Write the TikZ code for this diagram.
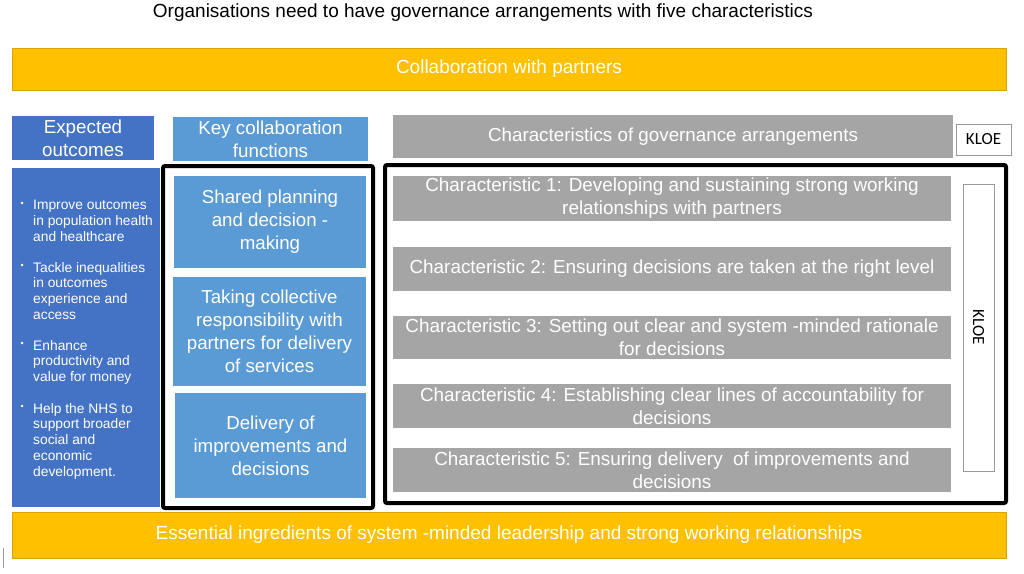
\documentclass[tikz,border=0pt]{standalone}
\usepackage{fontspec}
\setmainfont{Liberation Sans}
\newfontfamily\kloefont{Carlito}
\definecolor{darkblue}{HTML}{4472C4}
\definecolor{lightblue}{HTML}{5B9BD5}
\definecolor{greybox}{HTML}{A5A5A5}
\definecolor{amber}{HTML}{FFC000}
\begin{document}
\begin{tikzpicture}[x=1pt,y=-1pt,
  band/.style={fill=amber,draw=amber!85!black,line width=0.6pt,minimum width=994pt,text=white,font=\fontsize{19}{22}\selectfont},
  head/.style={text=white,align=center,inner sep=1pt,font=\fontsize{18.8}{23}\selectfont},
  func/.style={fill=lightblue,text=white,align=center,inner sep=1pt,font=\fontsize{18.7}{23}\selectfont},
  charbox/.style={fill=greybox,text=white,align=center,inner sep=1pt,minimum width=558pt,font=\fontsize{18.9}{23}\selectfont},
  frame/.style={draw=black,line width=4pt,rounded corners=2pt},
  kloebox/.style={draw=black!40,fill=white,font=\kloefont\fontsize{17}{19}\selectfont},
  bullets/.style={text=white,align=left,inner sep=0pt,font=\fontsize{13.8}{15.7}\selectfont}]
  \useasboundingbox[fill=white] (0,0) rectangle (1024,573);
  \node[font=\fontsize{19}{22}\selectfont] (title) at (483,13) {Organisations need to have governance arrangements with five characteristics};
  \node[band,minimum height=42pt] (collab) at (509,69) {Collaboration with partners};
  % headings
  \node[head,fill=darkblue,minimum width=142pt,minimum height=44pt] (exphead) at (83,138) {Expected\\outcomes};
  \node[head,fill=lightblue,minimum width=195pt,minimum height=44pt] (keyhead) at (270.5,139) {Key collaboration\\functions};
  \node[head,fill=greybox,minimum width=560pt,minimum height=43pt] (charhead) at (673,136.5) {Characteristics of governance arrangements};
  \node[kloebox,minimum width=55pt,minimum height=31pt] (kloe) at (983.5,139.5) {KLOE};
  % expected outcomes
  \node[fill=darkblue,minimum width=148pt,minimum height=339pt] (outcomes) at (86,337.5) {};
  \node[bullets,anchor=north west] (out1) at (33,200) {Improve outcomes\\in population health\\and healthcare};
  \node[bullets,anchor=north west] (out2) at (33,262) {Tackle inequalities\\in outcomes\\experience and\\access};
  \node[bullets,anchor=north west] (out3) at (33,340) {Enhance\\productivity and\\value for money};
  \node[bullets,anchor=north west] (out4) at (33,403) {Help the NHS to\\support broader\\social and\\economic\\development.};
  \foreach \b in {out1,out2,out3,out4}
    \node[bullets,anchor=north east,font=\fontsize{9}{15.5}\selectfont] at ([xshift=-9pt,yshift=-2pt]\b.north west) {\textbullet};
  % key collaboration functions
  \node[frame,minimum width=210pt,minimum height=342pt] (funcframe) at (268,337) {};
  \node[func,minimum width=192pt,minimum height=92pt] (func1) at (270,222) {Shared planning\\and decision -\\making};
  \node[func,minimum width=193pt,minimum height=109pt] (func2) at (269.5,331.5) {Taking collective\\responsibility with\\partners for delivery\\of services};
  \node[func,minimum width=191pt,minimum height=105pt] (func3) at (270.5,445.5) {Delivery of\\improvements and\\decisions};
  % characteristics
  \node[frame,minimum width=621pt,minimum height=338pt] (charframe) at (695.5,334) {};
  \node[charbox,minimum height=45pt] (char1) at (672,198.5) {Characteristic 1: Developing and sustaining strong working\\relationships with partners};
  \node[charbox,minimum height=44pt] (char2) at (672,269) {Characteristic 2: Ensuring decisions are taken at the right level};
  \node[charbox,minimum height=43pt] (char3) at (672,337.5) {Characteristic 3: Setting out clear and system -minded rationale\\for decisions};
  \node[charbox,minimum height=44pt] (char4) at (672,406) {Characteristic 4: Establishing clear lines of accountability for\\decisions};
  \node[charbox,minimum height=44pt] (char5) at (672,470) {Characteristic 5: Ensuring delivery \ of improvements and\\decisions};
  \node[kloebox,rotate=-90,minimum width=287pt,minimum height=31pt] (kloev) at (978.5,327.5) {KLOE};
  \node[band,minimum height=46pt] (ingredients) at (509,535) {Essential ingredients of system -minded leadership and strong working relationships};
  \draw[black!40,line width=1pt] (3,548) -- (3,568);
\end{tikzpicture}
\end{document}
